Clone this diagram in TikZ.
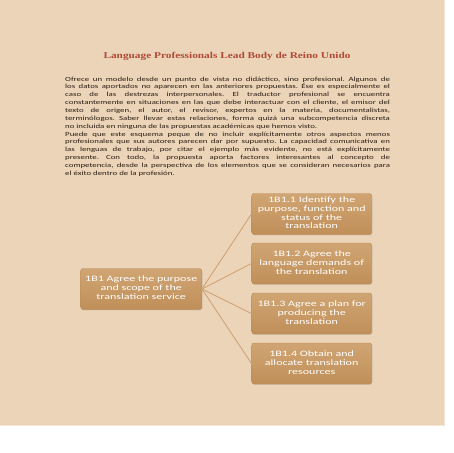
\documentclass[tikz,border=0pt]{standalone}
\usepackage{fontspec}
\setmainfont{Carlito}
\newfontfamily\titlefont{Liberation Serif}
\usepackage{graphicx}
\usetikzlibrary{shadows}
\frenchspacing
\definecolor{bg}{HTML}{ECD4B8}
\definecolor{bgedge}{HTML}{F4E6D6}
\definecolor{titlered}{HTML}{B04A36}
\definecolor{bodytext}{HTML}{2A1C12}
\definecolor{boxtop}{HTML}{D0A573}
\definecolor{boxbot}{HTML}{C08F59}
\definecolor{boxedge}{HTML}{B98A56}
\definecolor{linkcol}{HTML}{CFA475}
\newcommand\parline[1]{\hbox to 232pt{#1}}
\newcommand\lastline[1]{\hbox{#1}}
\newcommand\bt[1]{\scalebox{1.45}[1]{\fontsize{8.3}{8.8}\selectfont\renewcommand\arraystretch{1}\begin{tabular}{@{}c@{}}#1\end{tabular}}}
\tikzset{
  tbox/.style={draw=boxedge, line width=0.4pt, rounded corners=2.5pt,
    top color=boxtop, bottom color=boxbot, text=white,
    minimum width=120pt, minimum height=41pt, inner sep=0pt,
    drop shadow={opacity=0.25, shadow xshift=0.8pt, shadow yshift=-0.9pt}},
  link/.style={draw=linkcol, line width=0.9pt}
}
\begin{document}
\begin{tikzpicture}[x=1pt,y=-1pt]
\useasboundingbox (0,0) rectangle (453,453);
\fill[white] (0,0) rectangle (453,453);
\fill[bg] (0,0) rectangle (444,425);
\draw[bgedge, line width=0.8pt] (444,0) -- (444,425) -- (0,425);
\node[anchor=base west, inner sep=0pt, text=titlered] (title) at (103.3,58.3)
  {\resizebox{247pt}{6.3pt}{\titlefont\bfseries Language Professionals Lead Body de Reino Unido}};
\node[anchor=base west, inner sep=0pt, text=bodytext] (para) at (65,81)
  {\scalebox{1.40}[1]{\fontsize{6.3}{7.87}\selectfont\begin{minipage}[t]{232pt}\offinterlineskip\baselineskip=7.87pt\lineskiplimit=-10pt
  \parline{Ofrece un modelo desde un punto de vista no didáctico, sino profesional. Algunos de}
  \parline{los datos aportados no aparecen en las anteriores propuestas. Ése es especialmente el}
  \parline{caso de las destrezas interpersonales. El traductor profesional se encuentra}
  \parline{constantemente en situaciones en las que debe interactuar con el cliente, el emisor del}
  \parline{texto de origen, el autor, el revisor, expertos en la materia, documentalistas,}
  \parline{terminólogos. Saber llevar estas relaciones, forma quizá una subcompetencia discreta}
  \lastline{no incluida en ninguna de las propuestas académicas que hemos visto.}
  \parline{Puede que este esquema peque de no incluir explícitamente otros aspectos menos}
  \parline{profesionales que sus autores parecen dar por supuesto. La capacidad comunicativa en}
  \parline{las lenguas de trabajo, por citar el ejemplo más evidente, no está explícitamente}
  \parline{presente. Con todo, la propuesta aporta factores interesantes al concepto de}
  \parline{competencia, desde la perspectiva de los elementos que se consideran necesarios para}
  \lastline{el éxito dentro de la profesión.}
  \end{minipage}}};
\node[tbox, minimum width=121pt] (root) at (141.2,289) {\bt{1B1 Agree the purpose\\and scope of the\\translation service}};
\node[tbox] (c1) at (311.7,214) {\bt{1B1.1 Identify the\\purpose, function and\\status of the\\translation}};
\node[tbox] (c2) at (311.7,263.5) {\bt{1B1.2 Agree the\\language demands of\\the translation}};
\node[tbox] (c3) at (311.7,313.5) {\bt{1B1.3 Agree a plan for\\producing the\\translation}};
\node[tbox] (c4) at (311.7,363.5) {\bt{1B1.4 Obtain and\\allocate translation\\resources}};
\foreach \c in {c1,c2,c3,c4} \draw[link] (root.east) -- (\c.west);
\end{tikzpicture}
\end{document}
